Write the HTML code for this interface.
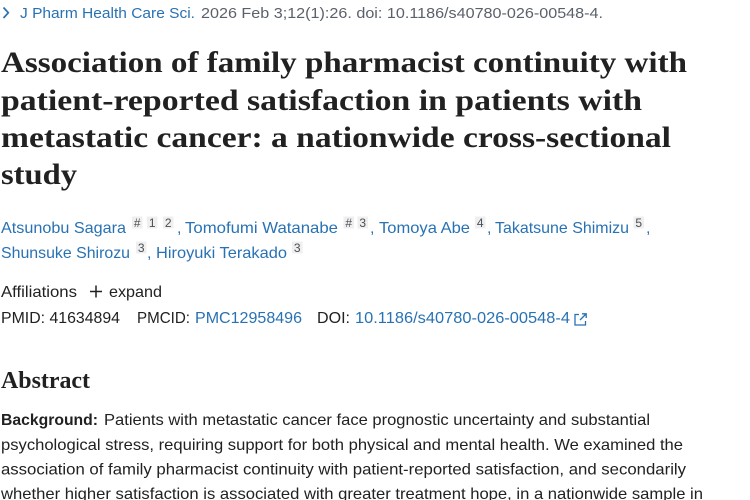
<!DOCTYPE html>
<html><head><meta charset="utf-8"><style>
html,body{margin:0;padding:0;background:#fff;width:750px;height:500px;overflow:hidden}
svg{display:block}
.s{font-family:"Liberation Sans",sans-serif}
.t{font-family:"Liberation Serif",serif;font-weight:bold;fill:#212121}
.b{fill:#2872b4}
.d{fill:#212121}
.g{fill:#5b616b}
.sup{font-family:"Liberation Sans",sans-serif;font-size:12px;fill:#4a4f56}
</style></head><body>
<svg width="750" height="500" viewBox="0 0 750 500" xmlns="http://www.w3.org/2000/svg">
<rect width="750" height="500" fill="#fff"/>
<!-- citation line -->
<polyline points="3.5,7.5 8.3,12.8 3.5,18" fill="none" stroke="#2872b4" stroke-width="1.7"/>
<text class="s b" x="20" y="18" font-size="14.5" textLength="175" lengthAdjust="spacingAndGlyphs">J Pharm Health Care Sci.</text>
<text class="s g" x="201" y="18" font-size="14.5" textLength="402" lengthAdjust="spacingAndGlyphs">2026 Feb 3;12(1):26. doi: 10.1186/s40780-026-00548-4.</text>
<!-- title -->
<text class="t" x="1" y="72" font-size="30" textLength="686" lengthAdjust="spacingAndGlyphs">Association of family pharmacist continuity with</text>
<text class="t" x="1" y="110" font-size="30" textLength="641" lengthAdjust="spacingAndGlyphs">patient-reported satisfaction in patients with</text>
<text class="t" x="1" y="147" font-size="30" textLength="670" lengthAdjust="spacingAndGlyphs">metastatic cancer: a nationwide cross-sectional</text>
<text class="t" x="1" y="184" font-size="30" textLength="76" lengthAdjust="spacingAndGlyphs">study</text>
<!-- superscript boxes -->
<g fill="#efefef">
<rect x="132" y="216.5" width="10.5" height="12"/>
<rect x="147" y="216.5" width="10.5" height="12"/>
<rect x="163" y="216.5" width="10.5" height="12"/>
<rect x="343.5" y="216.5" width="10.5" height="12"/>
<rect x="357.5" y="216.5" width="10.5" height="12"/>
<rect x="475" y="216.5" width="10.5" height="12"/>
<rect x="633.5" y="216.5" width="10.5" height="12"/>
<rect x="136" y="241.5" width="10.5" height="12"/>
<rect x="292" y="241.5" width="10.5" height="12"/>
</g>
<g class="sup" text-anchor="middle">
<text x="137.2" y="227">#</text>
<text x="152.2" y="227">1</text>
<text x="168.2" y="227">2</text>
<text x="348.7" y="227">#</text>
<text x="362.7" y="227">3</text>
<text x="480.2" y="227">4</text>
<text x="638.7" y="227">5</text>
<text x="141.2" y="252">3</text>
<text x="297.2" y="252">3</text>
</g>
<g class="s b" font-size="16">
<text x="1" y="233" textLength="125" lengthAdjust="spacingAndGlyphs">Atsunobu Sagara</text>
<text x="177" y="233">,</text>
<text x="185" y="233" textLength="153" lengthAdjust="spacingAndGlyphs">Tomofumi Watanabe</text>
<text x="370" y="233">,</text>
<text x="379" y="233" textLength="91" lengthAdjust="spacingAndGlyphs">Tomoya Abe</text>
<text x="487" y="233">,</text>
<text x="495" y="233" textLength="134" lengthAdjust="spacingAndGlyphs">Takatsune Shimizu</text>
<text x="646" y="233">,</text>
<text x="1" y="258" textLength="129" lengthAdjust="spacingAndGlyphs">Shunsuke Shirozu</text>
<text x="147" y="258">,</text>
<text x="156" y="258" textLength="131" lengthAdjust="spacingAndGlyphs">Hiroyuki Terakado</text>
</g>
<!-- affiliations -->
<g class="s d" font-size="16">
<text x="1" y="297" textLength="76" lengthAdjust="spacingAndGlyphs">Affiliations</text>
<text x="109" y="297" textLength="53" lengthAdjust="spacingAndGlyphs">expand</text>
<text x="1" y="323" textLength="119" lengthAdjust="spacingAndGlyphs">PMID: 41634894</text>
<text x="137" y="323" textLength="53" lengthAdjust="spacingAndGlyphs">PMCID:</text>
<text x="317" y="323" textLength="33" lengthAdjust="spacingAndGlyphs">DOI:</text>
</g>
<path d="M90 291.5 H102 M96 285.5 V297.5" stroke="#212121" stroke-width="1.5"/>
<g class="s b" font-size="16">
<text x="195" y="323" textLength="107" lengthAdjust="spacingAndGlyphs">PMC12958496</text>
<text x="355" y="323" textLength="215" lengthAdjust="spacingAndGlyphs">10.1186/s40780-026-00548-4</text>
</g>
<g fill="none" stroke="#2872b4" stroke-width="1.3">
<path d="M579 314.5 H575 V325 H585.5 V321"/>
<path d="M580 320 L586 314 M582 313.8 H586.2 V318"/>
</g>
<!-- abstract -->
<text class="t" x="1" y="388" font-size="24" textLength="89" lengthAdjust="spacingAndGlyphs">Abstract</text>
<g class="s d" font-size="16">
<text x="1" y="425" font-weight="bold" textLength="97" lengthAdjust="spacingAndGlyphs">Background:</text>
<text x="104" y="425" textLength="546" lengthAdjust="spacingAndGlyphs">Patients with metastatic cancer face prognostic uncertainty and substantial</text>
<text x="1" y="450" textLength="682" lengthAdjust="spacingAndGlyphs">psychological stress, requiring support for both physical and mental health. We examined the</text>
<text x="1" y="474.5" textLength="685" lengthAdjust="spacingAndGlyphs">association of family pharmacist continuity with patient-reported satisfaction, and secondarily</text>
<text x="1" y="499" textLength="702" lengthAdjust="spacingAndGlyphs">whether higher satisfaction is associated with greater treatment hope, in a nationwide sample in</text>
</g>
</svg>
</body></html>
